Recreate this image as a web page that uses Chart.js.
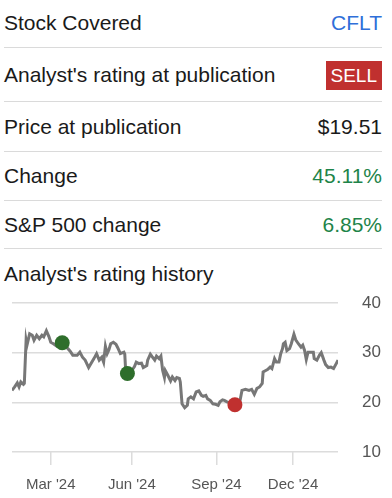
<!DOCTYPE html>
<html><head><meta charset="utf-8">
<script src="https://cdn.jsdelivr.net/npm/chart.js@4/dist/chart.umd.min.js"></script>
<style>
html,body{margin:0;padding:0;background:#fff;width:392px;height:498px;overflow:hidden;font-family:Arial,"Liberation Sans",sans-serif;color:#1a1a1a}
.row{position:absolute;left:4px;width:378px;height:26px;line-height:26px;font-size:21px}
.row .l{position:absolute;left:0}
.row .r{position:absolute;right:0}
.sep{position:absolute;left:4px;width:378px;height:0;border-top:1px solid #dadada}
.badge{background:#c0302f;color:#fff;font-size:19px;padding:0 5px;display:inline-block;line-height:29px;height:29px}
#wrap{position:absolute;left:0;top:290px;width:392px;height:208px}
</style></head><body>
<div class="row" style="top:10px"><span class="l">Stock Covered</span><span class="r" style="color:#2f6fd9">CFLT</span></div>
<div class="sep" style="top:47px"></div>
<div class="row" style="top:62px"><span class="l">Analyst's rating at publication</span><span class="r" style="top:-1px;right:0"><span class="badge">SELL</span></span></div>
<div class="sep" style="top:101px"></div>
<div class="row" style="top:114px"><span class="l">Price at publication</span><span class="r">$19.51</span></div>
<div class="sep" style="top:151px"></div>
<div class="row" style="top:163px"><span class="l">Change</span><span class="r" style="color:#1e8449">45.11%</span></div>
<div class="sep" style="top:200px"></div>
<div class="row" style="top:212px"><span class="l">S&amp;P 500 change</span><span class="r" style="color:#1e8449">6.85%</span></div>
<div class="sep" style="top:248px"></div>
<div class="row" style="top:261px"><span class="l">Analyst's rating history</span></div>
<div id="wrap"><canvas id="c" width="392" height="208"></canvas></div>
<script>
// days since 2024-01-17
const priceDays = [0,3,6,8,10,13,14,16,17,20,23,25,28,31,34,36,39,42,44,47,51,57,62,66,69,74,77,80,83,87,90,93,96,99,102,104,106,108,110,112,115,118,120,123,127,128,129,131,136,139,141,144,147,149,153,154,157,159,162,164,167,169,171,173,174,177,180,182,185,187,190,191,193,196,199,200,203,206,209,212,215,217,220,222,225,228,231,234,236,239,241,244,249,253,258,261,265,269,272,275,278,281,284,285,288,290,293,295,298,300,303,305,307,308,310,312,315,317,320,322,325,328,330,332,334,336,339,342,343,346,349,351,354,356,359,362,365,368,370];
const prices = [22.4,23.1,23.9,23.1,24.1,23.6,23.8,32.5,31.5,33.8,33.5,32.5,33.5,32.8,33.5,33.2,34.4,33.2,32.1,31.8,31.3,31.8,31.1,30.3,29.5,29.5,30.1,29.1,28.5,27.0,27.9,28.8,29.8,28.5,29.1,28.1,31.3,29.8,30.6,31.8,32.1,31.7,31.0,29.8,30.1,29.7,26.4,25.8,26.4,27.2,28.1,27.8,27.9,27.0,27.4,28.5,29.7,29.2,28.5,29.3,28.8,29.3,26.4,25.0,26.4,25.4,24.3,25.1,24.4,25.0,24.8,24.1,19.7,18.9,19.4,20.7,21.1,20.7,22.1,22.3,21.4,21.2,21.4,20.7,20.4,19.7,19.6,19.4,20.1,20.5,20.4,20.1,19.8,19.5,19.6,22.4,22.6,22.4,22.6,21.6,22.8,23.1,23.8,26.1,26.4,26.6,27.1,26.8,28.8,28.1,28.1,29.8,30.8,31.8,32.1,30.4,30.8,31.8,33.7,32.6,31.8,31.1,31.5,30.5,28.6,30.1,30.1,30.1,28.8,28.5,29.5,30.0,28.5,27.6,27.0,27.1,26.8,27.8,28.5];
const ratingDays = [57,131,253];
const ratingPrices = [32.0,25.8,19.5];
const ratingTypes = ["buy","buy","sell"];
const ratingColors = {buy:"#2e6e2b", sell:"#c0302f"};
const tickDays = [44,136,232,319];
const tickLabels = ["Mar '24","Jun '24","Sep '24","Dec '24"];
const yTicks = [10,20,30,40];

new Chart(document.getElementById('c'), {
  data: {
    datasets: [
      {type:'scatter', data: ratingDays.map((d,i)=>({x:d,y:ratingPrices[i]})),
       pointRadius:7.5, pointHoverRadius:7.5, borderWidth:0,
       pointBackgroundColor: ratingTypes.map(t=>ratingColors[t]), order:0},
      {type:'line', data: priceDays.map((d,i)=>({x:d,y:prices[i]})),
       borderColor:'#777777', borderWidth:3, pointRadius:0, tension:0, fill:false, order:1}
    ]
  },
  options: {
    responsive:false, animation:false, events:[],
    layout:{padding:{left:12,right:11,top:13,bottom:5}},
    plugins:{legend:{display:false}, tooltip:{enabled:false}},
    scales:{
      x:{type:'linear', min:0, max:370,
        afterBuildTicks:(s)=>{s.ticks = tickDays.map(v=>({value:v}));},
        afterFit:(s)=>{s.height = 41;},
        ticks:{callback:(v)=>{const i=tickDays.indexOf(v);return i>=0?tickLabels[i]:'';}, color:'#555', font:{family:'Arial, "Liberation Sans"', size:15}, padding:11, maxRotation:0, autoSkip:false},
        grid:{drawOnChartArea:false, drawTicks:true, tickLength:13, color:'#dcdcdc', lineWidth:1.5},
        border:{display:false}
      },
      y:{position:'right', min:10, max:40,
        afterBuildTicks:(s)=>{s.ticks = yTicks.map(v=>({value:v}));},
        afterFit:(s)=>{s.width = 43;},
        ticks:{color:'#555', font:{family:'Arial, "Liberation Sans"', size:17}, padding:0},
        grid:{drawTicks:true, tickLength:24, tickColor:'rgba(0,0,0,0)', color:'#dcdcdc', lineWidth:1.5},
        border:{display:false}
      }
    }
  }
});
</script>
</body></html>
